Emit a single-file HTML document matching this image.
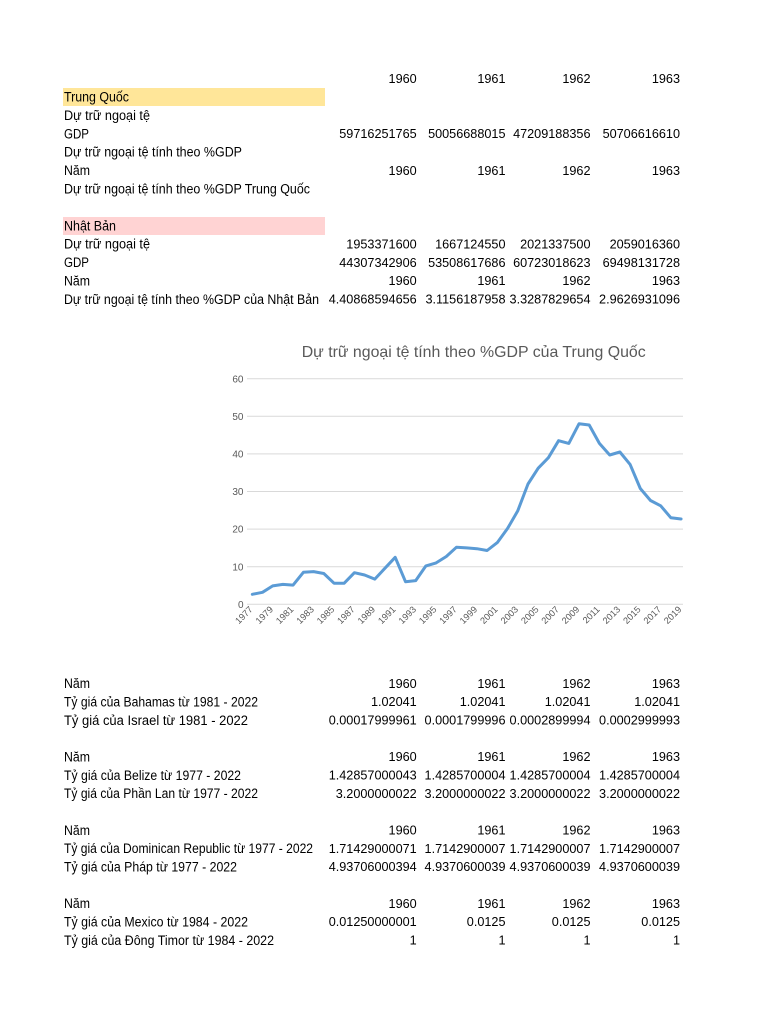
<!DOCTYPE html>
<html>
<head>
<meta charset="utf-8">
<style>
html,body{margin:0;padding:0;background:#fff;}
svg{display:block;}
text{font-family:"Liberation Sans","Noto Sans CJK JP",sans-serif;}
.t{font-size:13.5px;fill:#000;}
.n{font-size:12.66px;fill:#000;text-anchor:end;}
.ax{font-size:10px;fill:#595959;}
</style>
</head>
<body>
<svg width="768" height="1024" viewBox="0 0 768 1024" xmlns="http://www.w3.org/2000/svg">
<rect width="768" height="1024" fill="#fff"/>

<!-- bands -->
<rect x="63" y="88" width="262" height="18" fill="#ffe699"/>
<rect x="63" y="217" width="262" height="18" fill="#ffd3d3"/>

<!-- top table labels -->
<text class="t" x="64" y="101.5" textLength="65" lengthAdjust="spacingAndGlyphs">Trung Quốc</text>
<text class="t" x="64" y="119.9" textLength="86" lengthAdjust="spacingAndGlyphs">Dự trữ ngoại tệ</text>
<text class="t" x="64" y="138.3" textLength="25" lengthAdjust="spacingAndGlyphs">GDP</text>
<text class="t" x="64" y="156.7" textLength="178" lengthAdjust="spacingAndGlyphs">Dự trữ ngoại tệ tính theo %GDP</text>
<text class="t" x="64" y="175.1" textLength="26" lengthAdjust="spacingAndGlyphs">Năm</text>
<text class="t" x="64" y="193.5" textLength="246" lengthAdjust="spacingAndGlyphs">Dự trữ ngoại tệ tính theo %GDP Trung Quốc</text>
<text class="t" x="64" y="230.3" textLength="52" lengthAdjust="spacingAndGlyphs">Nhật Bản</text>
<text class="t" x="64" y="248.7" textLength="86" lengthAdjust="spacingAndGlyphs">Dự trữ ngoại tệ</text>
<text class="t" x="64" y="267.1" textLength="25" lengthAdjust="spacingAndGlyphs">GDP</text>
<text class="t" x="64" y="285.5" textLength="26" lengthAdjust="spacingAndGlyphs">Năm</text>
<text class="t" x="64" y="303.9" textLength="255" lengthAdjust="spacingAndGlyphs">Dự trữ ngoại tệ tính theo %GDP của Nhật Bản</text>

<!-- top table numbers -->
<text class="n" x="416.7" y="82.8">1960</text><text class="n" x="505.5" y="82.8">1961</text><text class="n" x="590.5" y="82.8">1962</text><text class="n" x="680" y="82.8">1963</text>
<text class="n" x="416.7" y="138">59716251765</text><text class="n" x="505.5" y="138">50056688015</text><text class="n" x="590.5" y="138">47209188356</text><text class="n" x="680" y="138">50706616610</text>
<text class="n" x="416.7" y="174.8">1960</text><text class="n" x="505.5" y="174.8">1961</text><text class="n" x="590.5" y="174.8">1962</text><text class="n" x="680" y="174.8">1963</text>
<text class="n" x="416.7" y="248.4">1953371600</text><text class="n" x="505.5" y="248.4">1667124550</text><text class="n" x="590.5" y="248.4">2021337500</text><text class="n" x="680" y="248.4">2059016360</text>
<text class="n" x="416.7" y="266.8">44307342906</text><text class="n" x="505.5" y="266.8">53508617686</text><text class="n" x="590.5" y="266.8">60723018623</text><text class="n" x="680" y="266.8">69498131728</text>
<text class="n" x="416.7" y="285.2">1960</text><text class="n" x="505.5" y="285.2">1961</text><text class="n" x="590.5" y="285.2">1962</text><text class="n" x="680" y="285.2">1963</text>
<text class="n" x="416.7" y="303.6">4.40868594656</text><text class="n" x="505.5" y="303.6">3.1156187958</text><text class="n" x="590.5" y="303.6">3.3287829654</text><text class="n" x="680" y="303.6">2.9626931096</text>

<!-- chart -->
<text x="301.7" y="357" font-size="16" fill="#595959" textLength="344" lengthAdjust="spacingAndGlyphs">Dự trữ ngoại tệ tính theo %GDP của Trung Quốc</text>
<g stroke="#d9d9d9" stroke-width="1">
<line x1="247" y1="378.7" x2="683" y2="378.7"/>
<line x1="247" y1="416.3" x2="683" y2="416.3"/>
<line x1="247" y1="453.9" x2="683" y2="453.9"/>
<line x1="247" y1="491.5" x2="683" y2="491.5"/>
<line x1="247" y1="529.1" x2="683" y2="529.1"/>
<line x1="247" y1="566.7" x2="683" y2="566.7"/>
<line x1="247" y1="604.3" x2="683" y2="604.3"/>
</g>
<g class="ax" text-anchor="end">
<text x="243.5" y="382.3">60</text>
<text x="243.5" y="419.9">50</text>
<text x="243.5" y="457.5">40</text>
<text x="243.5" y="495.1">30</text>
<text x="243.5" y="532.7">20</text>
<text x="243.5" y="570.3">10</text>
<text x="243.5" y="607.9">0</text>
</g>
<polyline fill="none" stroke="#5b9bd5" stroke-width="3" stroke-linejoin="round" stroke-linecap="round"
points="252.3,594.3 262.5,592.3 272.7,585.9 282.9,584.4 293.1,585.1 303.4,572.3 313.6,571.6 323.8,573.5 334.0,583.2 344.2,583.2 354.4,572.7 364.6,575.0 374.8,579.1 385.0,568.2 395.2,557.3 405.5,581.7 415.7,580.6 425.9,565.9 436.1,562.9 446.3,556.5 456.5,547.2 466.7,547.9 476.9,548.7 487.1,550.5 497.3,542.6 507.6,528.4 517.8,510.7 528.0,484.0 538.2,468.2 548.4,457.7 558.6,440.7 568.8,443.4 579.0,423.8 589.2,425.0 599.4,443.4 609.7,455.0 619.9,452.0 630.1,464.4 640.3,488.5 650.5,500.5 660.7,505.8 670.9,517.8 681.1,519.0"/>
<g class="ax" text-anchor="end" style="font-size:9.2px">
<text transform="translate(253.3,610) rotate(-45)">1977</text>
<text transform="translate(273.7,610) rotate(-45)">1979</text>
<text transform="translate(294.1,610) rotate(-45)">1981</text>
<text transform="translate(314.6,610) rotate(-45)">1983</text>
<text transform="translate(335.0,610) rotate(-45)">1985</text>
<text transform="translate(355.4,610) rotate(-45)">1987</text>
<text transform="translate(375.8,610) rotate(-45)">1989</text>
<text transform="translate(396.2,610) rotate(-45)">1991</text>
<text transform="translate(416.7,610) rotate(-45)">1993</text>
<text transform="translate(437.1,610) rotate(-45)">1995</text>
<text transform="translate(457.5,610) rotate(-45)">1997</text>
<text transform="translate(477.9,610) rotate(-45)">1999</text>
<text transform="translate(498.3,610) rotate(-45)">2001</text>
<text transform="translate(518.8,610) rotate(-45)">2003</text>
<text transform="translate(539.2,610) rotate(-45)">2005</text>
<text transform="translate(559.6,610) rotate(-45)">2007</text>
<text transform="translate(580.0,610) rotate(-45)">2009</text>
<text transform="translate(600.4,610) rotate(-45)">2011</text>
<text transform="translate(620.9,610) rotate(-45)">2013</text>
<text transform="translate(641.3,610) rotate(-45)">2015</text>
<text transform="translate(661.7,610) rotate(-45)">2017</text>
<text transform="translate(682.1,610) rotate(-45)">2019</text>
</g>

<!-- bottom table labels -->
<text class="t" x="64" y="688.1" textLength="26" lengthAdjust="spacingAndGlyphs">Năm</text>
<text class="t" x="64" y="706.5" textLength="194" lengthAdjust="spacingAndGlyphs">Tỷ giá của Bahamas từ 1981 - 2022</text>
<text class="t" x="64" y="724.8" textLength="184" lengthAdjust="spacingAndGlyphs">Tỷ giá của Israel từ 1981 - 2022</text>
<text class="t" x="64" y="761.5" textLength="26" lengthAdjust="spacingAndGlyphs">Năm</text>
<text class="t" x="64" y="779.8" textLength="177" lengthAdjust="spacingAndGlyphs">Tỷ giá của Belize từ 1977 - 2022</text>
<text class="t" x="64" y="798.1" textLength="194" lengthAdjust="spacingAndGlyphs">Tỷ giá của Phần Lan từ 1977 - 2022</text>
<text class="t" x="64" y="834.8" textLength="26" lengthAdjust="spacingAndGlyphs">Năm</text>
<text class="t" x="64" y="853.1" textLength="249" lengthAdjust="spacingAndGlyphs">Tỷ giá của Dominican Republic từ 1977 - 2022</text>
<text class="t" x="64" y="871.5" textLength="173" lengthAdjust="spacingAndGlyphs">Tỷ giá của Pháp từ 1977 - 2022</text>
<text class="t" x="64" y="908.1" textLength="26" lengthAdjust="spacingAndGlyphs">Năm</text>
<text class="t" x="64" y="926.5" textLength="184" lengthAdjust="spacingAndGlyphs">Tỷ giá của Mexico từ 1984 - 2022</text>
<text class="t" x="64" y="944.8" textLength="210" lengthAdjust="spacingAndGlyphs">Tỷ giá của Đông Timor từ 1984 - 2022</text>

<!-- bottom table numbers -->
<text class="n" x="416.7" y="687.8">1960</text><text class="n" x="505.5" y="687.8">1961</text><text class="n" x="590.5" y="687.8">1962</text><text class="n" x="680" y="687.8">1963</text>
<text class="n" x="416.7" y="706.2">1.02041</text><text class="n" x="505.5" y="706.2">1.02041</text><text class="n" x="590.5" y="706.2">1.02041</text><text class="n" x="680" y="706.2">1.02041</text>
<text class="n" x="416.7" y="724.5">0.00017999961</text><text class="n" x="505.5" y="724.5">0.0001799996</text><text class="n" x="590.5" y="724.5">0.0002899994</text><text class="n" x="680" y="724.5">0.0002999993</text>

<text class="n" x="416.7" y="761.2">1960</text><text class="n" x="505.5" y="761.2">1961</text><text class="n" x="590.5" y="761.2">1962</text><text class="n" x="680" y="761.2">1963</text>
<text class="n" x="416.7" y="779.5">1.42857000043</text><text class="n" x="505.5" y="779.5">1.4285700004</text><text class="n" x="590.5" y="779.5">1.4285700004</text><text class="n" x="680" y="779.5">1.4285700004</text>
<text class="n" x="416.7" y="797.8">3.2000000022</text><text class="n" x="505.5" y="797.8">3.2000000022</text><text class="n" x="590.5" y="797.8">3.2000000022</text><text class="n" x="680" y="797.8">3.2000000022</text>

<text class="n" x="416.7" y="834.5">1960</text><text class="n" x="505.5" y="834.5">1961</text><text class="n" x="590.5" y="834.5">1962</text><text class="n" x="680" y="834.5">1963</text>
<text class="n" x="416.7" y="852.8">1.71429000071</text><text class="n" x="505.5" y="852.8">1.7142900007</text><text class="n" x="590.5" y="852.8">1.7142900007</text><text class="n" x="680" y="852.8">1.7142900007</text>
<text class="n" x="416.7" y="871.2">4.93706000394</text><text class="n" x="505.5" y="871.2">4.9370600039</text><text class="n" x="590.5" y="871.2">4.9370600039</text><text class="n" x="680" y="871.2">4.9370600039</text>

<text class="n" x="416.7" y="907.8">1960</text><text class="n" x="505.5" y="907.8">1961</text><text class="n" x="590.5" y="907.8">1962</text><text class="n" x="680" y="907.8">1963</text>
<text class="n" x="416.7" y="926.2">0.01250000001</text><text class="n" x="505.5" y="926.2">0.0125</text><text class="n" x="590.5" y="926.2">0.0125</text><text class="n" x="680" y="926.2">0.0125</text>
<text class="n" x="416.7" y="944.5">1</text><text class="n" x="505.5" y="944.5">1</text><text class="n" x="590.5" y="944.5">1</text><text class="n" x="680" y="944.5">1</text>
</svg>
</body>
</html>
